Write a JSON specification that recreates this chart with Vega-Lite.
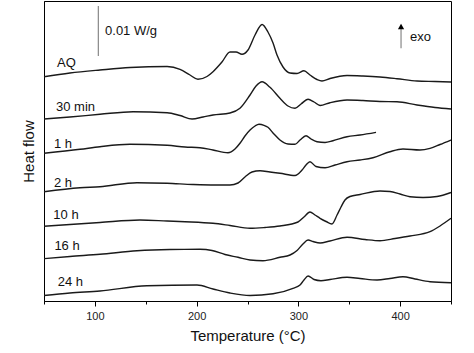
{
  "$schema": "https://vega.github.io/schema/vega-lite/v6.json",
  "width": 407,
  "height": 300,
  "autosize": {"type": "none"},
  "padding": {"left": 44, "top": 1, "right": 23, "bottom": 52},
  "background": "white",
  "config": {
    "view": {"stroke": "#000", "strokeWidth": 1},
    "font": "Liberation Sans"
  },
  "datasets": {
    "curves": [
      {"s": "AQ", "T": 50, "v": 224.3}, {"s": "AQ", "T": 75.5, "v": 228}, {"s": "AQ", "T": 105, "v": 231}, {"s": "AQ", "T": 134.5, "v": 233.5}, {"s": "AQ", "T": 171, "v": 234.5}, {"s": "AQ", "T": 183.7, "v": 231.7}, {"s": "AQ", "T": 193.5, "v": 226}, {"s": "AQ", "T": 201.3, "v": 221.7}, {"s": "AQ", "T": 210.2, "v": 224.5}, {"s": "AQ", "T": 216.1, "v": 229.3}, {"s": "AQ", "T": 224.9, "v": 239}, {"s": "AQ", "T": 232.8, "v": 249}, {"s": "AQ", "T": 238.7, "v": 249}, {"s": "AQ", "T": 244.6, "v": 246.7}, {"s": "AQ", "T": 250.5, "v": 251}, {"s": "AQ", "T": 257.4, "v": 266}, {"s": "AQ", "T": 264.3, "v": 276.5}, {"s": "AQ", "T": 270.1, "v": 269}, {"s": "AQ", "T": 275.1, "v": 258}, {"s": "AQ", "T": 279, "v": 246}, {"s": "AQ", "T": 284.9, "v": 234}, {"s": "AQ", "T": 291.8, "v": 228}, {"s": "AQ", "T": 298.7, "v": 227.5}, {"s": "AQ", "T": 305.5, "v": 230.2}, {"s": "AQ", "T": 311.4, "v": 226}, {"s": "AQ", "T": 318.3, "v": 221.5}, {"s": "AQ", "T": 323.2, "v": 220}, {"s": "AQ", "T": 331.1, "v": 222.5}, {"s": "AQ", "T": 347.8, "v": 225.5}, {"s": "AQ", "T": 363.5, "v": 225}, {"s": "AQ", "T": 380.2, "v": 224}, {"s": "AQ", "T": 396.9, "v": 222.3}, {"s": "AQ", "T": 416.6, "v": 220}, {"s": "AQ", "T": 434.3, "v": 219.5}, {"s": "AQ", "T": 450, "v": 219},
      {"s": "30 min", "T": 50, "v": 182}, {"s": "30 min", "T": 75.5, "v": 184}, {"s": "30 min", "T": 105, "v": 186.7}, {"s": "30 min", "T": 137.5, "v": 189.3}, {"s": "30 min", "T": 171, "v": 188.3}, {"s": "30 min", "T": 183.7, "v": 185.5}, {"s": "30 min", "T": 195.5, "v": 182}, {"s": "30 min", "T": 206.3, "v": 184}, {"s": "30 min", "T": 216.1, "v": 186}, {"s": "30 min", "T": 232.8, "v": 188}, {"s": "30 min", "T": 242.6, "v": 192.7}, {"s": "30 min", "T": 252.5, "v": 206}, {"s": "30 min", "T": 258.4, "v": 215}, {"s": "30 min", "T": 264.3, "v": 219.3}, {"s": "30 min", "T": 272.1, "v": 213.7}, {"s": "30 min", "T": 281.9, "v": 202.7}, {"s": "30 min", "T": 289.8, "v": 195}, {"s": "30 min", "T": 296.7, "v": 192.7}, {"s": "30 min", "T": 302.6, "v": 197}, {"s": "30 min", "T": 309.5, "v": 201.7}, {"s": "30 min", "T": 315.4, "v": 199}, {"s": "30 min", "T": 321.3, "v": 195.5}, {"s": "30 min", "T": 331.1, "v": 198.3}, {"s": "30 min", "T": 347.8, "v": 201}, {"s": "30 min", "T": 363.5, "v": 200.5}, {"s": "30 min", "T": 380.2, "v": 199.5}, {"s": "30 min", "T": 396.9, "v": 199.3}, {"s": "30 min", "T": 416.6, "v": 196}, {"s": "30 min", "T": 434.3, "v": 193.5}, {"s": "30 min", "T": 450, "v": 192},
      {"s": "1 h", "T": 50, "v": 147.7}, {"s": "1 h", "T": 85.4, "v": 151.7}, {"s": "1 h", "T": 105, "v": 154.3}, {"s": "1 h", "T": 134.5, "v": 156.7}, {"s": "1 h", "T": 171, "v": 155.7}, {"s": "1 h", "T": 188.6, "v": 154}, {"s": "1 h", "T": 203.3, "v": 153.3}, {"s": "1 h", "T": 216.1, "v": 151}, {"s": "1 h", "T": 230.8, "v": 148.3}, {"s": "1 h", "T": 237.7, "v": 152}, {"s": "1 h", "T": 242.6, "v": 157.7}, {"s": "1 h", "T": 247.5, "v": 165}, {"s": "1 h", "T": 252.5, "v": 171}, {"s": "1 h", "T": 257.4, "v": 175}, {"s": "1 h", "T": 261.3, "v": 176.7}, {"s": "1 h", "T": 266.2, "v": 175.7}, {"s": "1 h", "T": 270.1, "v": 173.7}, {"s": "1 h", "T": 276, "v": 167}, {"s": "1 h", "T": 281.9, "v": 161}, {"s": "1 h", "T": 289.8, "v": 157}, {"s": "1 h", "T": 296.7, "v": 156.7}, {"s": "1 h", "T": 301.6, "v": 161}, {"s": "1 h", "T": 307.5, "v": 165.3}, {"s": "1 h", "T": 312.4, "v": 162}, {"s": "1 h", "T": 318.3, "v": 159.3}, {"s": "1 h", "T": 326.2, "v": 158.5}, {"s": "1 h", "T": 334, "v": 160.3}, {"s": "1 h", "T": 347.8, "v": 164.3}, {"s": "1 h", "T": 360.6, "v": 166}, {"s": "1 h", "T": 376.3, "v": 168.7},
      {"s": "2 h", "T": 50, "v": 109.3}, {"s": "2 h", "T": 85.4, "v": 113.3}, {"s": "2 h", "T": 105, "v": 114.3}, {"s": "2 h", "T": 141.4, "v": 118.3}, {"s": "2 h", "T": 171, "v": 117.7}, {"s": "2 h", "T": 196.4, "v": 116.5}, {"s": "2 h", "T": 218.1, "v": 116}, {"s": "2 h", "T": 232.8, "v": 116}, {"s": "2 h", "T": 240.7, "v": 118}, {"s": "2 h", "T": 247.5, "v": 124}, {"s": "2 h", "T": 254.4, "v": 129}, {"s": "2 h", "T": 262.3, "v": 130.3}, {"s": "2 h", "T": 272.1, "v": 129}, {"s": "2 h", "T": 281.9, "v": 127.7}, {"s": "2 h", "T": 296.7, "v": 125.5}, {"s": "2 h", "T": 303.6, "v": 131}, {"s": "2 h", "T": 307.5, "v": 136}, {"s": "2 h", "T": 311.4, "v": 139.3}, {"s": "2 h", "T": 317.3, "v": 134.5}, {"s": "2 h", "T": 326.2, "v": 133.3}, {"s": "2 h", "T": 336, "v": 136}, {"s": "2 h", "T": 347.8, "v": 139.3}, {"s": "2 h", "T": 360.6, "v": 141}, {"s": "2 h", "T": 373.3, "v": 143.3}, {"s": "2 h", "T": 390, "v": 149.3}, {"s": "2 h", "T": 402.8, "v": 152}, {"s": "2 h", "T": 419.5, "v": 151}, {"s": "2 h", "T": 429.4, "v": 152.7}, {"s": "2 h", "T": 439.2, "v": 156.5}, {"s": "2 h", "T": 450, "v": 161},
      {"s": "10 h", "T": 50, "v": 74.7}, {"s": "10 h", "T": 75.5, "v": 76.5}, {"s": "10 h", "T": 105, "v": 78.5}, {"s": "10 h", "T": 144.3, "v": 81}, {"s": "10 h", "T": 171, "v": 80}, {"s": "10 h", "T": 188.6, "v": 79.3}, {"s": "10 h", "T": 216.1, "v": 77.7}, {"s": "10 h", "T": 232.8, "v": 75.5}, {"s": "10 h", "T": 252.5, "v": 72.7}, {"s": "10 h", "T": 267.2, "v": 73.5}, {"s": "10 h", "T": 281.9, "v": 75}, {"s": "10 h", "T": 299.6, "v": 79}, {"s": "10 h", "T": 305.5, "v": 84}, {"s": "10 h", "T": 311.4, "v": 89}, {"s": "10 h", "T": 316.3, "v": 86}, {"s": "10 h", "T": 321.3, "v": 82.7}, {"s": "10 h", "T": 327.2, "v": 79.5}, {"s": "10 h", "T": 333, "v": 77}, {"s": "10 h", "T": 338, "v": 86}, {"s": "10 h", "T": 341.9, "v": 94}, {"s": "10 h", "T": 345.8, "v": 101}, {"s": "10 h", "T": 350.7, "v": 104.5}, {"s": "10 h", "T": 360.6, "v": 106.5}, {"s": "10 h", "T": 380.2, "v": 110}, {"s": "10 h", "T": 390, "v": 109.5}, {"s": "10 h", "T": 399.9, "v": 107}, {"s": "10 h", "T": 409.7, "v": 104.3}, {"s": "10 h", "T": 422.5, "v": 103.5}, {"s": "10 h", "T": 436.2, "v": 104.5}, {"s": "10 h", "T": 450, "v": 108.5},
      {"s": "16 h", "T": 50, "v": 42.3}, {"s": "16 h", "T": 75.5, "v": 44.5}, {"s": "16 h", "T": 105, "v": 46.7}, {"s": "16 h", "T": 141.4, "v": 50.3}, {"s": "16 h", "T": 173.8, "v": 51.5}, {"s": "16 h", "T": 203.3, "v": 51.7}, {"s": "16 h", "T": 215.1, "v": 50.5}, {"s": "16 h", "T": 227.9, "v": 46.5}, {"s": "16 h", "T": 240.7, "v": 43.7}, {"s": "16 h", "T": 252.5, "v": 41}, {"s": "16 h", "T": 265.2, "v": 40.3}, {"s": "16 h", "T": 281.9, "v": 43.7}, {"s": "16 h", "T": 291.8, "v": 46}, {"s": "16 h", "T": 298.7, "v": 50.5}, {"s": "16 h", "T": 304.5, "v": 57}, {"s": "16 h", "T": 309.5, "v": 61}, {"s": "16 h", "T": 314.4, "v": 59.5}, {"s": "16 h", "T": 321.3, "v": 58}, {"s": "16 h", "T": 331.1, "v": 60}, {"s": "16 h", "T": 347.8, "v": 63.7}, {"s": "16 h", "T": 365.5, "v": 61.5}, {"s": "16 h", "T": 380.2, "v": 60.3}, {"s": "16 h", "T": 395, "v": 62.5}, {"s": "16 h", "T": 409.7, "v": 65}, {"s": "16 h", "T": 429.4, "v": 69.3}, {"s": "16 h", "T": 439.2, "v": 75}, {"s": "16 h", "T": 450, "v": 82.7},
      {"s": "24 h", "T": 50, "v": 5.5}, {"s": "24 h", "T": 75.5, "v": 8}, {"s": "24 h", "T": 105, "v": 10}, {"s": "24 h", "T": 151.2, "v": 15.3}, {"s": "24 h", "T": 200.4, "v": 16}, {"s": "24 h", "T": 216.1, "v": 12}, {"s": "24 h", "T": 232.8, "v": 8}, {"s": "24 h", "T": 252.5, "v": 5.5}, {"s": "24 h", "T": 275.1, "v": 7.2}, {"s": "24 h", "T": 294.7, "v": 12.7}, {"s": "24 h", "T": 301.6, "v": 16}, {"s": "24 h", "T": 305.5, "v": 21}, {"s": "24 h", "T": 309.5, "v": 25}, {"s": "24 h", "T": 315.4, "v": 21.5}, {"s": "24 h", "T": 322.2, "v": 20.3}, {"s": "24 h", "T": 331.1, "v": 21.5}, {"s": "24 h", "T": 347.8, "v": 23.7}, {"s": "24 h", "T": 360.6, "v": 22.5}, {"s": "24 h", "T": 377.3, "v": 21}, {"s": "24 h", "T": 390, "v": 22.5}, {"s": "24 h", "T": 402.8, "v": 24.3}, {"s": "24 h", "T": 414.6, "v": 22}, {"s": "24 h", "T": 429.4, "v": 19.3}, {"s": "24 h", "T": 450, "v": 18.3}
    ],
    "labels": [
      {"label": "AQ", "T": 62.8, "v": 238},
      {"label": "30 min", "T": 61.8, "v": 194.3},
      {"label": "1 h", "T": 59.8, "v": 157},
      {"label": "2 h", "T": 59.8, "v": 117.7},
      {"label": "10 h", "T": 59.2, "v": 85.7},
      {"label": "16 h", "T": 60.2, "v": 54.7},
      {"label": "24 h", "T": 63.5, "v": 19.3}
    ],
    "bars": [
      {"T": 103.4, "v": 295, "v2": 245},
      {"T": 400.9, "v": 252.7, "v2": 272}
    ],
    "notes": [
      {"label": "0.01 W/g", "T": 110, "v": 270},
      {"label": "exo", "T": 409.7, "v": 264.3}
    ],
    "heads": [
      {"T": 400.9, "v": 274.5}
    ]
  },
  "layer": [
    {
      "data": {"name": "curves"},
      "mark": {"type": "line", "interpolate": "monotone", "color": "#1a1a1a", "strokeWidth": 1.4},
      "encoding": {
        "x": {
          "field": "T", "type": "quantitative",
          "scale": {"domain": [50, 450], "nice": false, "zero": false},
          "axis": {
            "title": "Temperature (°C)",
            "values": [50, 100, 150, 200, 250, 300, 350, 400, 450],
            "labelExpr": "datum.value % 100 === 0 ? datum.label : ''",
            "tickSize": {"condition": {"test": "datum.value % 100 === 0", "value": 5}, "value": 3},
            "tickColor": "#000",
            "domainColor": "#000",
            "grid": false,
            "labelFontSize": 11,
            "labelColor": "#222",
            "labelPadding": 4,
            "titleFontSize": 15,
            "titleFontWeight": "normal",
            "titleColor": "#111",
            "titlePadding": 7
          }
        },
        "y": {
          "field": "v", "type": "quantitative",
          "scale": {"domain": [0, 300], "nice": false, "zero": false},
          "axis": {
            "title": "Heat flow",
            "labels": false,
            "ticks": false,
            "grid": false,
            "domainColor": "#000",
            "titleFontSize": 15,
            "titleFontWeight": "normal",
            "titleColor": "#111",
            "titlePadding": 8
          }
        },
        "detail": {"field": "s"}
      }
    },
    {
      "data": {"name": "labels"},
      "mark": {"type": "text", "align": "left", "baseline": "middle", "fontSize": 13, "color": "#111"},
      "encoding": {
        "x": {"field": "T", "type": "quantitative"},
        "y": {"field": "v", "type": "quantitative"},
        "text": {"field": "label"}
      }
    },
    {
      "data": {"name": "bars"},
      "mark": {"type": "rule", "color": "#888", "strokeWidth": 1.2},
      "encoding": {
        "x": {"field": "T", "type": "quantitative"},
        "y": {"field": "v", "type": "quantitative"},
        "y2": {"field": "v2"}
      }
    },
    {
      "data": {"name": "heads"},
      "mark": {"type": "point", "shape": "triangle-up", "filled": true, "color": "#000", "size": 38, "opacity": 1},
      "encoding": {
        "x": {"field": "T", "type": "quantitative"},
        "y": {"field": "v", "type": "quantitative"}
      }
    },
    {
      "data": {"name": "notes"},
      "mark": {"type": "text", "align": "left", "baseline": "middle", "fontSize": 13, "color": "#111"},
      "encoding": {
        "x": {"field": "T", "type": "quantitative"},
        "y": {"field": "v", "type": "quantitative"},
        "text": {"field": "label"}
      }
    }
  ]
}
